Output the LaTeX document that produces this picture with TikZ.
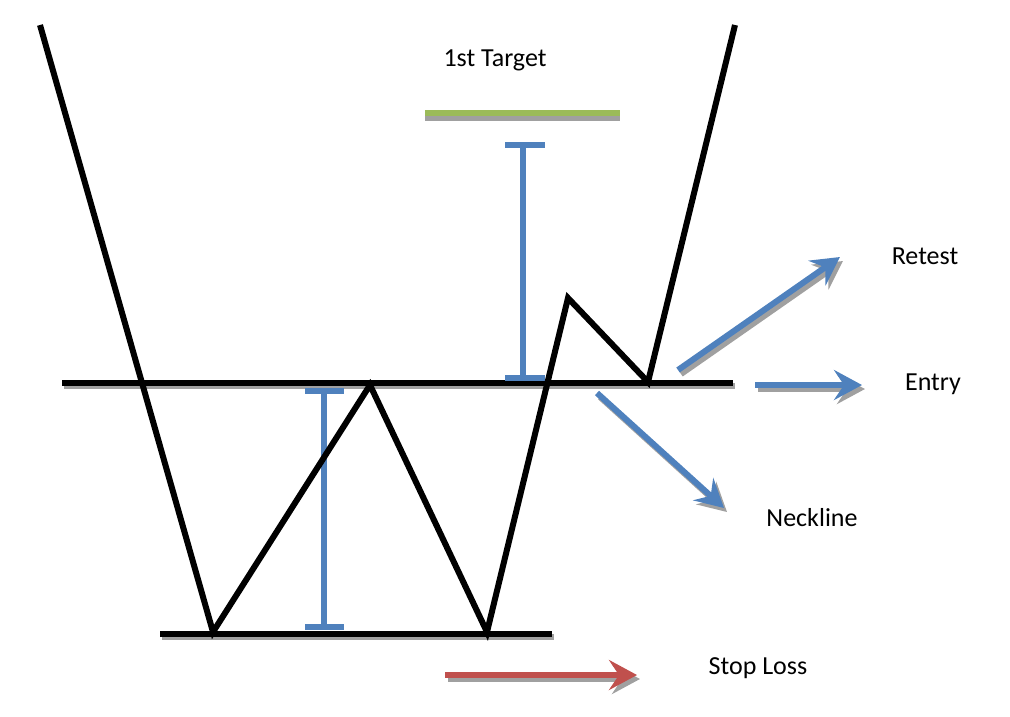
\documentclass[tikz,border=0pt]{standalone}
\usepackage{fontspec}
\setmainfont{Carlito}
\usetikzlibrary{arrows.meta}
\definecolor{bl}{RGB}{79,129,189}
\definecolor{gr}{RGB}{155,187,89}
\definecolor{rd}{RGB}{192,80,77}
\definecolor{sh}{RGB}{160,160,160}
\begin{document}
\begin{tikzpicture}[x=1pt,y=-1pt,
  blk/.style={line width=6pt,black,line join=miter},
  shd/.style={line width=6pt,sh},
  arr/.style={line width=6pt,-{Stealth[length=28pt,width=30pt,inset=10pt]}},
  lbl/.style={font=\fontsize{26}{30}\selectfont,inner sep=0pt}]
\useasboundingbox (0,0) rectangle (1010,716);
% neckline and bottom
\coordinate (n1) at (62,383); \coordinate (n2) at (733,383);
\coordinate (b1) at (160,634); \coordinate (b2) at (552,634);
\draw[shd] ([shift={(2,3)}]n1) -- ([shift={(2,3)}]n2);
\draw[shd] ([shift={(2,3)}]b1) -- ([shift={(2,3)}]b2);
\draw[blk] (n1) -- (n2);
\draw[blk] (b1) -- (b2);
% green target
\coordinate (g1) at (425,113); \coordinate (g2) at (620,113);
\draw[shd] ([shift={(0,5)}]g1) -- ([shift={(0,5)}]g2);
\draw[line width=6pt,gr] (g1) -- (g2);
% I-bars
\coordinate (i1) at (523,145); \coordinate (i2) at (523,378);
\draw[line width=6pt,bl] (i1) -- (i2) (505,145) -- (545,145) (505,378) -- (545,378);
\coordinate (j1) at (324,391); \coordinate (j2) at (324,627);
\draw[line width=6pt,bl] (j1) -- (j2) (305,391) -- (344,391) (305,627) -- (344,627);
% price path
\coordinate (p0) at (40,25); \coordinate (p1) at (213,632); \coordinate (p2) at (370,385);
\coordinate (p3) at (487,632); \coordinate (p4) at (568,298); \coordinate (p5) at (648,382);
\coordinate (p6) at (735,25);
\draw[blk] (p0) -- (p1) -- (p2) -- (p3) -- (p4) -- (p5) -- (p6);
% labels
\node[lbl] (t1) at (495,60) {1st Target};
\node[lbl] (rt) at (925,256) {Retest};
\node[lbl] (en) at (933,384) {Entry};
\node[lbl] (nk) at (812,518) {Neckline};
\node[lbl] (sl) at (758,668) {Stop Loss};
% arrows
\coordinate (a1) at (678,370); \coordinate (a2) at (840,257);
\coordinate (e1) at (755,385); \coordinate (e2) at (862,385);
\coordinate (k1) at (597,393); \coordinate (k2) at (724,508);
\coordinate (s1) at (445,675); \coordinate (s2) at (637,675);
\foreach \u/\v in {a1/a2,e1/e2,k1/k2,s1/s2}
  \draw[arr,sh] ([shift={(3,4)}]\u) -- ([shift={(3,4)}]\v);
\draw[arr,bl] (a1) -- (a2);
\draw[arr,bl] (e1) -- (e2);
\draw[arr,bl] (k1) -- (k2);
\draw[arr,rd] (s1) -- (s2);
\end{tikzpicture}
\end{document}
